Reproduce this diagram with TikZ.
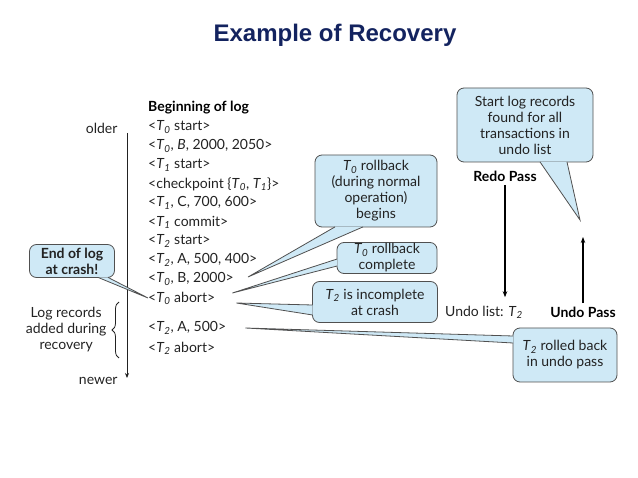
\documentclass[tikz,border=0pt]{standalone}
\usepackage{fontspec}
\setmainfont{Lato}
\newfontfamily\titlefont{Liberation Sans}
\usetikzlibrary{calc,arrows.meta,decorations.pathreplacing}

\definecolor{bubblefill}{HTML}{CFE9F6}
\definecolor{bubbleline}{HTML}{505050}
\definecolor{titleblue}{HTML}{13235F}
\definecolor{logtext}{HTML}{222222}

\newcommand{\Tx}[1]{\textit{T}\textsubscript{\textit{#1}}}

\tikzset{
    logfont/.style={font=\fontsize{14}{16}\selectfont},
    boldfont/.style={font=\fontsize{14}{16}\selectfont\bfseries},
    logentry/.style={logfont,anchor=west,inner sep=0pt,text=logtext},
    bubble/.style={logfont,draw=bubbleline,fill=bubblefill,line width=0.8pt,
        rounded corners=7pt,align=center,inner sep=1pt,text=logtext},
    tail/.style={draw=bubbleline,fill=bubblefill,line width=0.8pt,line join=miter},
    passarrow/.style={line width=1.1pt,-{Stealth[length=6pt,width=4.5pt]}},
}

\begin{document}
\begin{tikzpicture}[x=1pt,y=-1pt]
    \useasboundingbox (0,0) rectangle (638,478);

    \node[font=\titlefont\fontsize{24}{27}\selectfont\bfseries,text=titleblue] (title) at (335,35) {Example of Recovery};

    % the log
    \node[logentry,boldfont,text=black] (begin) at (148,108) {Beginning of log};
    \foreach \txt [count=\i] in {
        {<\Tx0 start>},
        {<\Tx0, \textit{B}, 2000, 2050>},
        {<\Tx1 start>},
        {<checkpoint \{\Tx0, \Tx1\}>},
        {<\Tx1, C, 700, 600>},
        {<\Tx1 commit>},
        {<\Tx2 start>},
        {<\Tx2, A, 500, 400>},
        {<\Tx0, B, 2000>},
        {<\Tx0 abort>}} {
        \node[logentry] (l\i) at (148,108+19*\i) {\txt};
    }
    \node[logentry] (l11) at (148,328) {<\Tx2, A, 500>};
    \node[logentry] (l12) at (148,348) {<\Tx2 abort>};

    % time line
    \node[logfont,anchor=east,text=logtext] (older) at (121,128) {older};
    \node[logfont,anchor=east,text=logtext] (newer) at (121,381) {newer};
    \coordinate (tstart) at (127,133);
    \coordinate (tend) at (127,378);
    \draw[line width=0.8pt,color=logtext,-{Stealth[length=5pt,width=4pt]}] (tstart) -- (tend);

    \draw[line width=0.8pt,color=logtext,decorate,decoration={brace,amplitude=7pt}] (119,358) -- (119,302);
    \node[logfont,anchor=east,align=center,text=logtext] (added) at (110,330) {Log records\\added during\\recovery};

    % callouts
    \node[bubble,boldfont,minimum width=85pt,minimum height=33pt] (endlog) at (72,261) {End of log\\at crash!};
    \filldraw[tail] ($(endlog.south)+(26,-0.5)$) -- (l10.west) -- ($(endlog.south)+(36,-0.5)$);

    \node[bubble,minimum width=122pt,minimum height=72pt] (rbbegin) at (376,191) {\Tx0 rollback\\(during normal\\operation)\\begins};
    \filldraw[tail] ($(rbbegin.south)+(-41,-0.5)$) -- ($(l9.east)+(14,-2)$) -- ($(rbbegin.south)+(-13,-0.5)$);

    \node[bubble,minimum width=100pt,minimum height=31pt] (rbdone) at (387,258) {\Tx0 rollback\\complete};
    \filldraw[tail] ($(rbdone.west)+(0.5,1)$) -- ($(l10.east)+(17,-5)$) -- ($(rbdone.west)+(0.5,8)$);

    \node[bubble,minimum width=125pt,minimum height=41pt] (incomp) at (375,302) {\Tx2 is incomplete\\at crash};
    \filldraw[tail] ($(incomp.west)+(0.5,3)$) -- ($(l10.east)+(21,5)$) -- ($(incomp.west)+(0.5,13)$);

    \node[bubble,minimum width=104pt,minimum height=54pt] (rolled) at (565,355) {\Tx2 rolled back\\in undo pass};
    \filldraw[tail] ($(rolled.west)+(0.5,-19)$) -- ($(l11.east)+(19,0)$) -- ($(rolled.west)+(0.5,-12)$);

    \coordinate (starttip) at (580,220);
    \node[bubble,minimum width=136pt,minimum height=74pt] (startrec) at (525,125) {Start log records\\found for all\\transactions in\\undo list};
    \filldraw[tail] ($(startrec.south)+(15,-0.5)$) -- (starttip) -- ($(startrec.south)+(42,-0.5)$);

    % passes
    \node[boldfont] (redo) at (505,176) {Redo Pass};
    \node[logfont,text=logtext] (undolist) at (484,312) {Undo list: \Tx2};
    \node[boldfont] (undopass) at (583,312) {Undo Pass};
    \coordinate (undotop) at (583,237);
    \draw[passarrow] (redo.south) -- ($(redo.south |- undolist.north)+(0,-5)$);
    \draw[passarrow] (undopass.north) -- (undotop);
\end{tikzpicture}
\end{document}
